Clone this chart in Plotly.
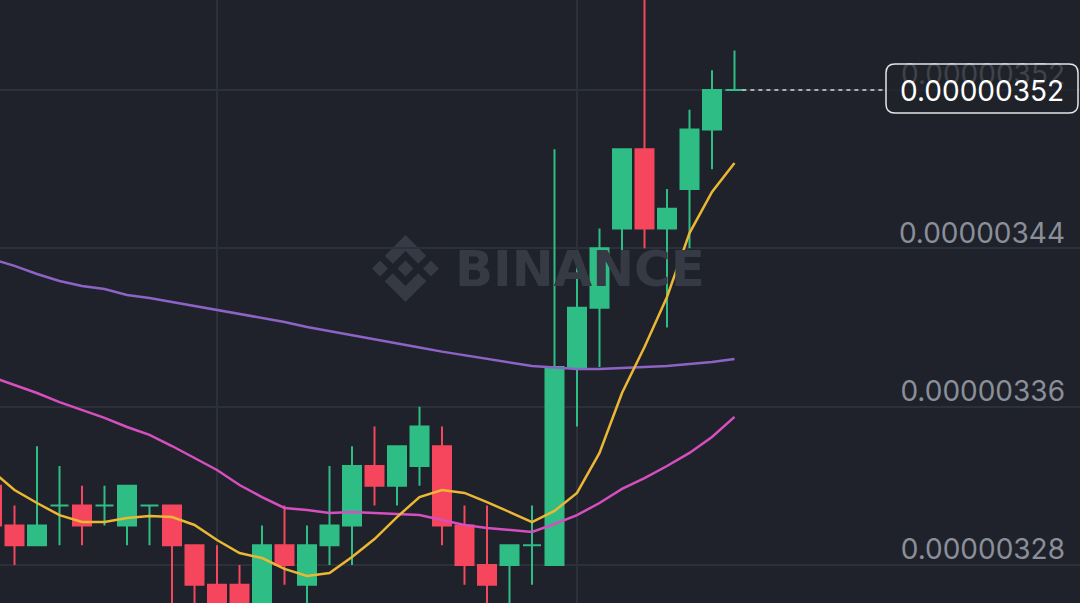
import plotly.graph_objects as go

# ---------------- data (prices in units of 1e-8) ----------------
UNIT = 1e-8
idx = list(range(-1, 33))
opens  = [332, 330, 329, 331, 331, 331, 330, 331, 331, 329, 327, 327, 326, 329, 327, 329, 330,
          333, 332, 333, 334, 330, 328, 328, 329, 328, 338, 341, 345, 349, 345, 347, 350, 352]
highs  = [333, 331, 334, 333, 332, 332, 332, 331, 331, 329, 329, 328, 330, 331, 330, 333, 334,
          335, 334, 336, 335, 331, 331, 329, 331, 349, 343, 345, 349, 360, 347, 351, 353, 354]
lows   = [329, 328, 329, 329, 329, 330, 329, 329, 325, 325, 325, 325, 325, 327, 325, 328, 328,
          331, 331, 332, 329, 327, 325, 325, 327, 328, 335, 338, 343, 344, 340, 344, 348, 352]
closes = [330, 329, 330, 331, 330, 331, 332, 331, 329, 327, 326, 326, 329, 328, 329, 330, 333,
          332, 334, 335, 330, 328, 327, 329, 329, 338, 341, 344, 349, 345, 346, 350, 352, 352]
ma7  = [332.75, 331.79, 331.13, 330.52, 330.17, 330.17, 330.37, 330.47, 330.42, 330.02, 329.26,
        328.60, 328.35, 327.80, 327.44, 327.59, 328.40, 329.31, 330.42, 331.43, 331.79, 331.64,
        331.18, 330.68, 330.17, 330.73, 331.64, 333.66, 336.69, 339.01, 341.54, 344.77, 346.85, 348.31]
ma25 = [337.50, 337.09, 336.69, 336.23, 335.83, 335.43, 334.97, 334.57, 334.01, 333.40, 332.80,
        332.04, 331.43, 330.88, 330.78, 330.63, 330.68, 330.63, 330.57, 330.52, 330.27, 330.02,
        329.87, 329.77, 329.67, 330.07, 330.52, 331.13, 331.84, 332.39, 333.00, 333.66, 334.47, 335.48]
ma99 = [343.46, 343.11, 342.70, 342.35, 342.10, 341.94, 341.64, 341.49, 341.29, 341.09, 340.88,
        340.68, 340.48, 340.28, 340.02, 339.82, 339.59, 339.39, 339.20, 338.99, 338.78, 338.59,
        338.41, 338.23, 338.05, 337.98, 337.90, 337.90, 337.95, 338.00, 338.05, 338.15, 338.26, 338.41]
tick_vals = [328, 336, 344, 352]
last_price = 352
last_price_text = "0.00000352"
watermark = "BINANCE"

# ---------------- styles ----------------
BG = "#1f222a"
GRID = "#2c3039"
GREEN = "#2ebd85"
RED = "#f6465d"
YELLOW = "#ebb734"
PINK = "#d64fbf"
PURPLE = "#8d63c6"
TICK = "#8a8f99"
W, H = 1080, 603


def sc(v):
    return [a * UNIT for a in v]


def px(x):
    return x / W


def py(y):
    return 1 - y / H


fig = go.Figure()

green_i = [k for k in range(len(idx)) if closes[k] >= opens[k]]
red_i = [k for k in range(len(idx)) if closes[k] < opens[k]]
for sel, col in ((green_i, GREEN), (red_i, RED)):
    fig.add_trace(go.Candlestick(
        x=[idx[k] for k in sel],
        open=[opens[k] * UNIT for k in sel],
        high=[highs[k] * UNIT for k in sel],
        low=[lows[k] * UNIT for k in sel],
        close=[closes[k] * UNIT for k in sel],
        increasing=dict(line=dict(color=col, width=2), fillcolor=col),
        decreasing=dict(line=dict(color=col, width=2), fillcolor=col),
        whiskerwidth=0, showlegend=False, hoverinfo="skip",
    ))

for vals, col in ((ma99, PURPLE), (ma25, PINK), (ma7, YELLOW)):
    fig.add_trace(go.Scatter(x=idx, y=sc(vals), mode="lines",
                             line=dict(color=col, width=2.5), showlegend=False,
                             hoverinfo="skip"))

shapes = []
# last-price dashed line
shapes.append(dict(type="line", xref="x", yref="y", x0=32.35, x1=(885 - 14.5) / 22.5,
                   y0=last_price * UNIT, y1=last_price * UNIT,
                   line=dict(color="#d5d8de", width=1.4, dash="4px,4px"), layer="above"))

# rounded price box (semi-transparent, axis label faintly visible behind)
x0, x1, y0, y1, r = 886, 1078, 64, 113, 9
path = (f"M {px(x0 + r)} {py(y0)} L {px(x1 - r)} {py(y0)} Q {px(x1)} {py(y0)} {px(x1)} {py(y0 + r)} "
        f"L {px(x1)} {py(y1 - r)} Q {px(x1)} {py(y1)} {px(x1 - r)} {py(y1)} "
        f"L {px(x0 + r)} {py(y1)} Q {px(x0)} {py(y1)} {px(x0)} {py(y1 - r)} "
        f"L {px(x0)} {py(y0 + r)} Q {px(x0)} {py(y0)} {px(x0 + r)} {py(y0)} Z")
shapes.append(dict(type="path", xref="paper", yref="paper", path=path,
                   fillcolor="rgba(31,34,42,0.7)", line=dict(color="#e3e5e8", width=1.5),
                   layer="above"))

# watermark logo (BNB diamond)
LX, LY, LS = 372, 235, 67
polys = [
    [(0.5, 0.0), (0.81, 0.31), (0.69, 0.43), (0.5, 0.24), (0.31, 0.43), (0.19, 0.31)],
    [(0.5, 1.0), (0.81, 0.69), (0.69, 0.57), (0.5, 0.76), (0.31, 0.57), (0.19, 0.69)],
    [(0.0, 0.5), (0.12, 0.38), (0.24, 0.5), (0.12, 0.62)],
    [(1.0, 0.5), (0.88, 0.38), (0.76, 0.5), (0.88, 0.62)],
    [(0.5, 0.38), (0.62, 0.5), (0.5, 0.62), (0.38, 0.5)],
]
for poly in polys:
    pts = [(px(LX + a * LS), py(LY + b * LS)) for a, b in poly]
    d = "M " + " L ".join(f"{a} {b}" for a, b in pts) + " Z"
    shapes.append(dict(type="path", xref="paper", yref="paper", path=d,
                       fillcolor="#353a44", line=dict(width=0), layer="below"))

annotations = [
    dict(text="<b>" + watermark + "</b>", xref="paper", yref="paper", x=px(580), y=py(269),
         showarrow=False, font=dict(family="DejaVu Sans", size=50, color="#353a44"),
         xanchor="center", yanchor="middle"),
    dict(text=last_price_text, xref="paper", yref="paper", x=px(982), y=py(91),
         showarrow=False, font=dict(family="Inter", size=28, color="#ffffff"),
         xanchor="center", yanchor="middle"),
]

fig.update_layout(
    width=W, height=H,
    margin=dict(l=0, r=0, t=0, b=0),
    paper_bgcolor=BG, plot_bgcolor=BG,
    boxgap=0.2, boxgroupgap=0,
    shapes=shapes, annotations=annotations,
    xaxis=dict(range=[-14.5 / 22.5, (W - 14.5) / 22.5], rangeslider=dict(visible=False),
               tickvals=[9, 25], showticklabels=False, showgrid=True, gridcolor=GRID,
               gridwidth=1.5, zeroline=False, showline=False, ticks=""),
    yaxis=dict(range=[(352 - 513 / 19.79) * UNIT, (352 + 90 / 19.79) * UNIT],
               side="right", tickvals=sc(tick_vals), tickformat=".8f",
               ticklabelposition="inside top", ticklabelstandoff=12, ticklabelshift=4,
               showgrid=True, gridcolor=GRID, gridwidth=1.5,
               zeroline=False, showline=False, ticks="",
               tickfont=dict(family="Inter", size=28, color=TICK)),
)

fig.write_html("out.html", config={"displayModeBar": False},
               post_script="document.body.style.margin='0';document.body.style.padding='0';"
                           "document.body.style.background='" + BG + "';")
